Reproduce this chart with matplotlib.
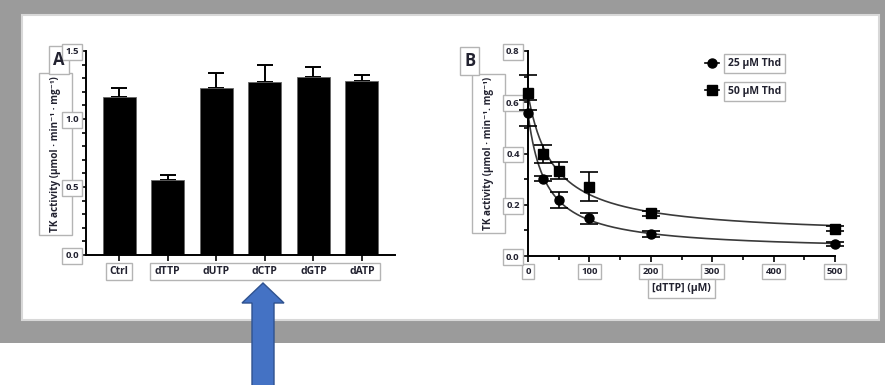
"""TK activity figure: nucleotide screen (A) and dTTP inhibition curves (B)."""

import matplotlib as mpl
import matplotlib.pyplot as plt
import numpy as np
from matplotlib.lines import Line2D
from matplotlib.patches import Polygon, Rectangle

W, H = 885, 385

mpl.rcParams.update(
    {
        "font.family": ["Open Sans", "DejaVu Sans"],
        "font.weight": "bold",
        "axes.labelweight": "bold",
        "axes.linewidth": 1.4,
        "axes.spines.top": False,
        "axes.spines.right": False,
        "xtick.major.width": 1.2,
        "ytick.major.width": 1.2,
        "ytick.minor.width": 1.2,
        "xtick.minor.width": 1.2,
        "xtick.major.size": 4,
        "ytick.major.size": 4,
        "ytick.minor.size": 3,
        "xtick.minor.size": 3,
    }
)

TEXT = "#222230"
BOX_EDGE = "#b4b4b4"
GRAY_BG = "#9b9b9b"

# panel A: activity with each nucleotide
bar_labels = ["Ctrl", "dTTP", "dUTP", "dCTP", "dGTP", "dATP"]
bar_means = [1.16, 0.55, 1.23, 1.27, 1.31, 1.28]
bar_err = [0.07, 0.035, 0.11, 0.125, 0.075, 0.04]

# panel B: activity against dTTP concentration
dttp_conc = [0, 25, 50, 100, 200, 500]
act_25 = [0.557, 0.302, 0.219, 0.147, 0.086, 0.046]
err_25 = [0.05, 0.01, 0.03, 0.022, 0.012, 0.008]
act_50 = [0.638, 0.398, 0.333, 0.271, 0.167, 0.107]
err_50 = [0.07, 0.035, 0.033, 0.055, 0.01, 0.01]


def px(x, y):
    """Pixel position (from top-left) to figure fraction."""
    return x / W, 1 - y / H


def fig_rect(fig, x0, y0, x1, y1, **kw):
    fx, fy = px(x0, y1)
    fig.patches.append(
        Rectangle((fx, fy), (x1 - x0) / W, (y1 - y0) / H,
                  transform=fig.transFigure, **kw)
    )


def fit_inhibition(x, y):
    """Least squares fit of y = bottom + (top - bottom) / (1 + x / ic50)."""
    x = np.asarray(x, float)
    y = np.asarray(y, float)
    best = None
    for ic50 in np.geomspace(1, 1000, 2000):
        f = 1.0 / (1.0 + x / ic50)
        A = np.column_stack([1 - f, f])
        coef, *_ = np.linalg.lstsq(A, y, rcond=None)
        sse = np.sum((A @ coef - y) ** 2)
        if best is None or sse < best[0]:
            best = (sse, ic50, coef)
    _, ic50, (bottom, top) = best
    return lambda xx: bottom + (top - bottom) / (1.0 + xx / ic50)


def boxed(texts, pad=1.5):
    for t in texts:
        t.set_bbox(dict(boxstyle=f"square,pad={pad / 10:.2f}", fc="white",
                        ec=BOX_EDGE, lw=1.0))


def frame(fig, artists, padx, pady, renderer):
    """Gray box (pixels of padding) around the union of some texts."""
    ext = [a.get_window_extent(renderer) for a in artists]
    x0 = min(e.x0 for e in ext) - padx
    x1 = max(e.x1 for e in ext) + padx
    y0 = min(e.y0 for e in ext) - pady
    y1 = max(e.y1 for e in ext) + pady
    fig.patches.append(Rectangle((x0 / W, y0 / H), (x1 - x0) / W, (y1 - y0) / H,
                                 transform=fig.transFigure, fc="white",
                                 ec=BOX_EDGE, lw=1.0, zorder=-1))


fig = plt.figure(figsize=(W / 100, H / 100), dpi=100)
fig.patch.set_facecolor("white")
fig_rect(fig, 0, 0, W, 343, fc=GRAY_BG, ec="none", zorder=-3)
fig_rect(fig, 22, 15, 879, 320, fc="white", ec="#d8d8d8", lw=1.5, zorder=-2)

# ---------------- panel A ----------------
axA = fig.add_axes([86 / W, 1 - 255 / H, (395 - 86) / W, (255 - 51) / H])
axA.set_facecolor("none")
xs = np.arange(len(bar_labels))
axA.bar(xs, bar_means, width=0.68, color="black", edgecolor="#666666",
        linewidth=0.6, zorder=2)
axA.errorbar(xs, bar_means, yerr=[np.zeros(len(xs)), bar_err], fmt="none",
             ecolor="black", elinewidth=1.4, capsize=5.5, capthick=1.4, zorder=1)
axA.set_xlim(-0.68, len(xs) - 1 + 0.68)
axA.set_ylim(0, 1.5)
axA.set_yticks([0.0, 0.5, 1.0, 1.5])
axA.set_yticks(np.arange(0, 1.5, 0.1), minor=True)
axA.yaxis.set_major_formatter(mpl.ticker.FormatStrFormatter("%.1f"))
axA.set_xticks(xs, bar_labels)
axA.tick_params(axis="y", labelsize=6.8, pad=1, colors=TEXT)
axA.tick_params(axis="y", which="both", color="black")
axA.tick_params(axis="x", labelsize=7.5, pad=4, labelcolor=TEXT, color="black")
boxed(axA.get_yticklabels(), pad=3.5)
axA.set_ylabel("TK activity (µmol · min⁻¹ · mg⁻¹)", fontsize=7.1, color=TEXT,
               va="center")
axA.yaxis.set_label_coords(-0.098, 0.495)
labelA = axA.text(-0.088, 0.958, "A", transform=axA.transAxes, fontsize=12,
                  color=TEXT, ha="center", va="center")

# ---------------- panel B ----------------
axB = fig.add_axes([528 / W, 1 - 256 / H, (835 - 528) / W, (256 - 51) / H])
axB.set_facecolor("none")
xfit = np.linspace(0, 500, 400)
for act, err, marker, ms in (
    (act_25, err_25, "o", 6.5),
    (act_50, err_50, "s", 7),
):
    curve = fit_inhibition(dttp_conc, act)
    axB.plot(xfit, curve(xfit), color="#3a3a3a", lw=1.2, zorder=2)
    axB.errorbar(dttp_conc, act, yerr=err, fmt=marker, ms=ms, color="black",
                 ecolor="black", elinewidth=1.2, capsize=6.5, capthick=1.2,
                 clip_on=False, zorder=3)
axB.set_xlim(0, 500)
axB.set_ylim(0, 0.8)
axB.set_xticks(np.arange(0, 501, 100))
axB.set_xticks(np.arange(0, 501, 50), minor=True)
axB.set_yticks(np.arange(0, 0.81, 0.2))
axB.set_yticks(np.arange(0, 0.8, 0.1), minor=True)
axB.yaxis.set_major_formatter(mpl.ticker.FormatStrFormatter("%.1f"))
axB.tick_params(axis="both", labelsize=6.8, colors=TEXT)
axB.tick_params(axis="both", which="both", color="black")
axB.tick_params(axis="x", pad=4)
axB.tick_params(axis="y", pad=2)
boxed(axB.get_yticklabels(), pad=3.5)
boxed(axB.get_xticklabels(), pad=3.5)
axB.set_xlabel("[dTTP] (µM)", fontsize=7.5, color=TEXT, va="center",
               bbox=dict(boxstyle="square,pad=0.35", fc="white", ec=BOX_EDGE, lw=1.0))
axB.xaxis.set_label_coords(0.5, -0.158)
axB.set_ylabel("TK activity (µmol · min⁻¹. mg⁻¹)", fontsize=7.1, color=TEXT,
               va="center")
axB.yaxis.set_label_coords(-0.13, 0.5)
labelB = axB.text(-0.19, 0.95, "B", transform=axB.transAxes, fontsize=12,
                  color=TEXT, ha="center", va="center")

handles = [
    Line2D([], [], color="black", marker="o", ms=6.5, lw=1.2),
    Line2D([], [], color="black", marker="s", ms=7, lw=1.2),
]
leg = axB.legend(handles, ["25 µM Thd", "50 µM Thd"], loc="upper left",
                 bbox_to_anchor=(0.57, 0.975), frameon=False, fontsize=7.5,
                 handlelength=1.3, handletextpad=0.9, labelspacing=1.6,
                 borderpad=0.2, borderaxespad=0)
for t in leg.get_texts():
    t.set_color(TEXT)
boxed(leg.get_texts(), pad=4)

# boxes around the axis labels, panel letters and the nucleotide group
fig.canvas.draw()
renderer = fig.canvas.get_renderer()
frame(fig, [axA.yaxis.label], 11, 3, renderer)
frame(fig, [axB.yaxis.label], 11, 3, renderer)
frame(fig, [labelA], 4, 5, renderer)
frame(fig, [labelB], 4, 5, renderer)
frame(fig, axA.get_xticklabels()[:1], 4, 3, renderer)
frame(fig, axA.get_xticklabels()[1:], 5, 3, renderer)

# blue pointer arrow under dCTP
arrow_px = [(263, 283), (284, 303), (274, 303), (274, 386),
            (252, 386), (252, 303), (242, 303)]
fig.patches.append(Polygon([px(x, y) for x, y in arrow_px], closed=True,
                           transform=fig.transFigure, fc="#4472c4",
                           ec="#2f528f", lw=1.0, zorder=10))

fig.savefig("out.png", dpi=100)
